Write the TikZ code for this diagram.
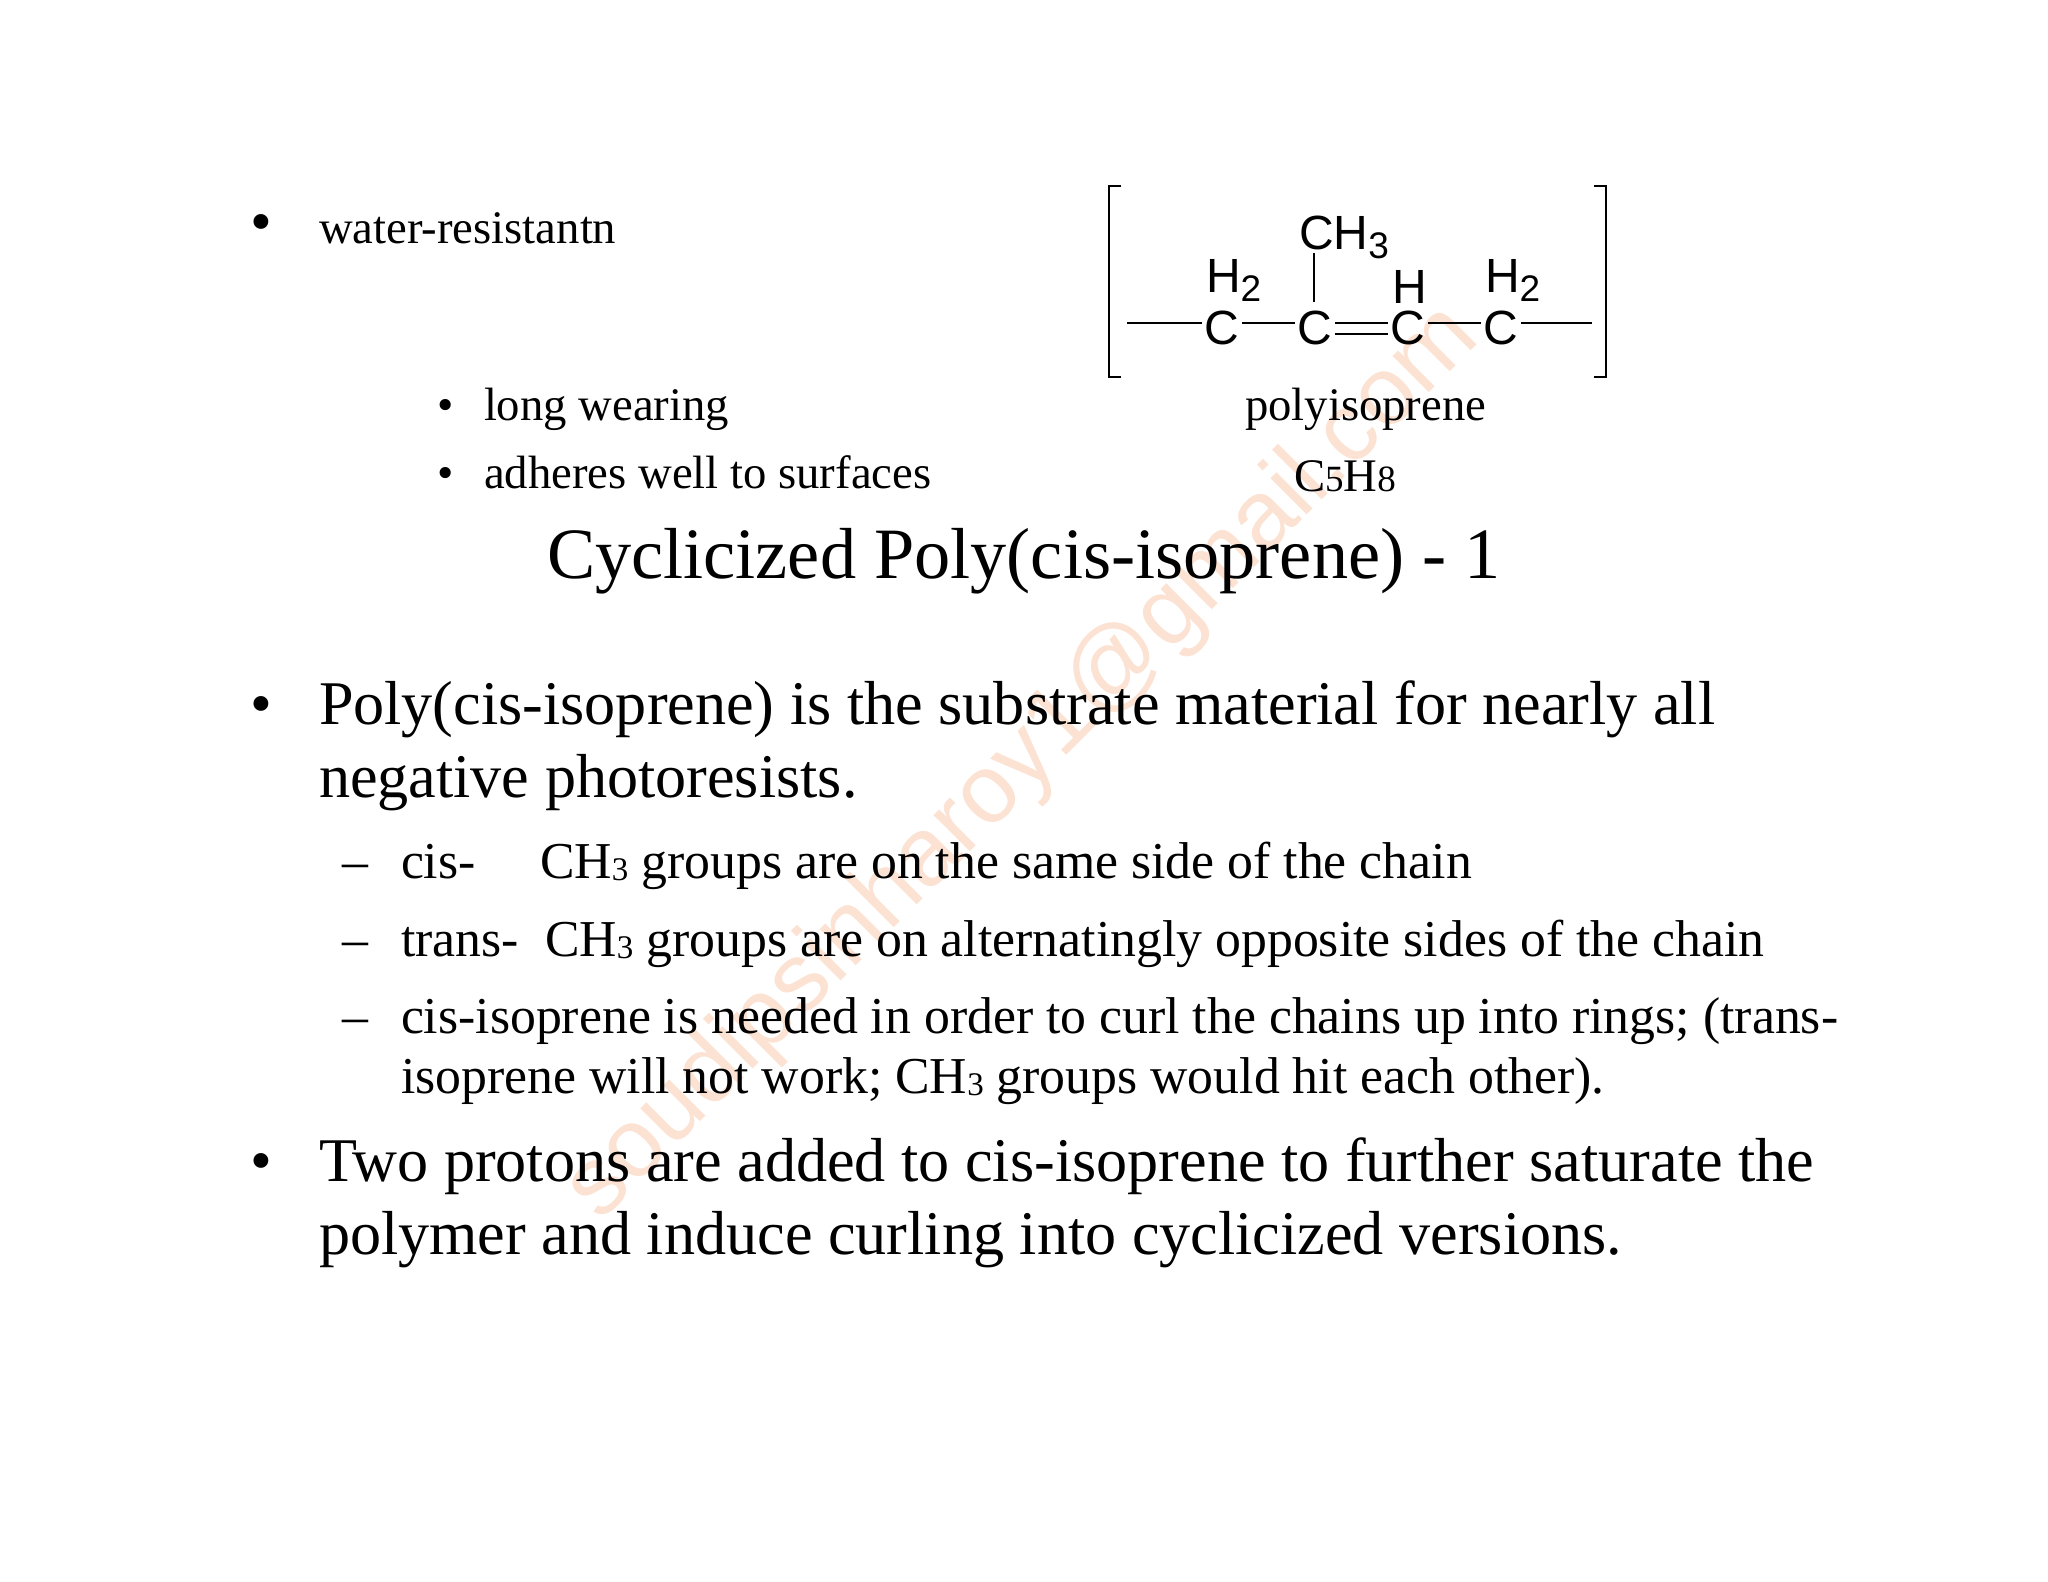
\documentclass[tikz,border=0pt]{standalone}
\usepackage{fontspec}
\setmainfont{Liberation Serif}
\newfontfamily\chemfont{Liberation Sans}
\definecolor{markorange}{RGB}{252,226,210}

\newcommand{\subthree}{\raisebox{-2pt}{\fontsize{33}{33}\selectfont 3}}
\newcommand{\chemsub}[1]{\raisebox{-9pt}{\fontsize{37}{37}\selectfont #1}}

\begin{document}
\begin{tikzpicture}[x=1pt,y=-1pt,line cap=butt,
    every node/.style={inner sep=0pt,outer sep=0pt},
    small/.style={anchor=base west,font=\fontsize{46.7}{46.7}\selectfont},
    big/.style={anchor=base west,font=\fontsize{62.15}{62.15}\selectfont},
    mid/.style={anchor=base west,font=\fontsize{51.75}{51.75}\selectfont},
    atom/.style={font=\chemfont\fontsize{48}{48}\selectfont,anchor=base west},
    carbon/.style={font=\chemfont\fontsize{48}{48}\selectfont,anchor=base,inner xsep=3pt},
    bond/.style={line width=2.8pt,black}]

\useasboundingbox (0,0) rectangle (2048,1582);

% ---------- watermark ----------
\node[rotate=45,text=markorange,font=\chemfont\fontsize{97}{97}\selectfont,anchor=base west] (mark) at (600,1222) {soudipsinharoy1@gmail.com};

% ---------- top list ----------
\node[big] (dota) at (250,242) {•};
\node[small] (resist) at (319,243) {water-resistantn};
\node[small] (dotb) at (437,420) {•};
\node[small] (wear) at (484,420) {long wearing};
\node[small] (dotc) at (437,488) {•};
\node[small] (adhere) at (484,488) {adheres well to surfaces};

% ---------- polyisoprene ----------
\node[carbon] (ca) at (1222,344) {C};
\node[carbon] (cb) at (1315,344) {C};
\node[carbon] (cc) at (1408,344) {C};
\node[carbon] (cd) at (1501,344) {C};
\node[atom] (hsa) at (1206,292) {H\chemsub{2}};
\node[atom] (methyl) at (1299,249) {CH\chemsub{3}};
\node[atom] (hsb) at (1392,303) {H};
\node[atom] (hsc) at (1485,292) {H\chemsub{2}};

\coordinate (endl) at (1127,323);
\coordinate (endr) at (1592,323);
\draw[bond] (endl) -- (ca.west |- endl);
\draw[bond] (ca.east |- endl) -- (cb.west |- endl);
\draw[bond] (cb.east |- endl) -- (cc.west |- endl);
\draw[bond] ([yshift=-11pt]cb.east |- endl) -- ([yshift=-11pt]cc.west |- endl);
\draw[bond] (cc.east |- endl) -- (cd.west |- endl);
\draw[bond] (cd.east |- endl) -- (endr);
\draw[bond] (1314,253) -- (1314,302);

% brackets
\draw[bond] (1121,186) -- (1109,186) -- (1109,377) -- (1121,377);
\draw[bond] (1594,186) -- (1606,186) -- (1606,377) -- (1594,377);

\node[small] (pname) at (1245,420) {polyisoprene};
\node[small] (formula) at (1294,491) {C{\fontsize{37}{37}\selectfont 5}H{\fontsize{37}{37}\selectfont 8}};

% ---------- title ----------
\node[anchor=base west,font=\fontsize{72.3}{72.3}\selectfont] (title) at (547,578) {Cyclicized Poly(cis-isoprene) - 1};

% ---------- body ----------
\node[big] (dotd) at (250,724) {•};
\node[big] (polya) at (319,724) {Poly(cis-isoprene) is the substrate material for nearly all};
\node[big] (polyb) at (319,797) {negative photoresists.};
\node[mid] (dasha) at (342,878) {–};
\node[mid] (cis) at (401,878) {cis-};
\node[mid] (cisb) at (540,878) {CH\subthree{} groups are on the same side of the chain};
\node[mid] (dashb) at (342,956) {–};
\node[mid] (trans) at (401,956) {trans-};
\node[mid] (transb) at (545,956) {CH\subthree{} groups are on alternatingly opposite sides of the chain};
\node[mid] (dashc) at (342,1033) {–};
\node[mid] (curla) at (401,1033) {cis-isoprene is needed in order to curl the chains up into rings; (trans-};
\node[mid] (curlb) at (401,1093) {isoprene will not work; CH\subthree{} groups would hit each other).};
\node[big] (dote) at (250,1181) {•};
\node[big] (protona) at (319,1181) {Two protons are added to cis-isoprene to further saturate the};
\node[big] (protonb) at (319,1254) {polymer and induce curling into cyclicized versions.};

\end{tikzpicture}
\end{document}
